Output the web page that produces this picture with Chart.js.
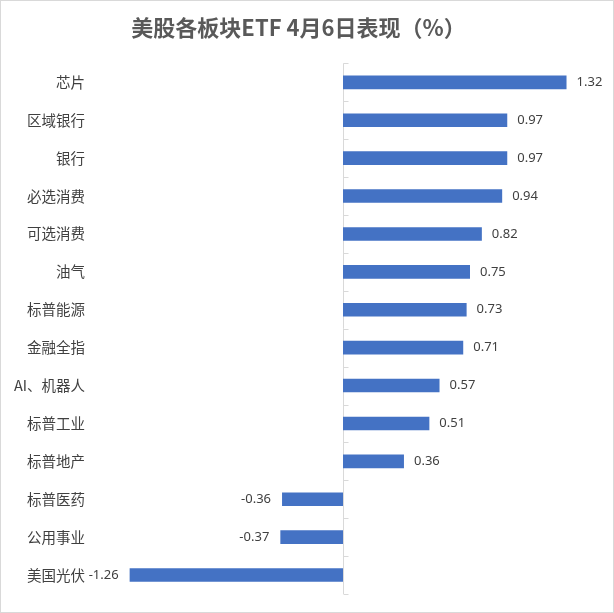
<!DOCTYPE html>
<html>
<head>
<meta charset="utf-8">
<script src="https://cdn.jsdelivr.net/npm/chart.js@4/dist/chart.umd.min.js"></script>
<style>
    html, body { margin: 0; padding: 0; background: #fff; }
    #wrap { width: 614px; height: 613px; }
</style>
</head>
<body>
<div id="wrap"><canvas id="etfChart" width="614" height="613"></canvas></div>
<script>
// 板块名称与涨跌幅（%）
const sectors = ['芯片', '区域银行', '银行', '必选消费', '可选消费', '油气', '标普能源',
    '金融全指', 'AI、机器人', '标普工业', '标普地产', '标普医药', '公用事业', '美国光伏'];
const changes = [1.32, 0.97, 0.97, 0.94, 0.82, 0.75, 0.73, 0.71, 0.57, 0.51, 0.36, -0.36, -0.37, -1.26];

const titleText = '美股各板块ETF 4月6日表现（%）';

// 白底 + 外边框
const bgPlugin = {
    id: 'bg',
    beforeDraw(chart) {
        const c = chart.ctx;
        c.save();
        c.fillStyle = '#ffffff';
        c.fillRect(0, 0, chart.width, chart.height);
        c.strokeStyle = '#d9d9d9';
        c.lineWidth = 1;
        c.strokeRect(0.5, 0.5, chart.width - 1, chart.height - 1);
        c.restore();
    }
};

// 零轴线和分类刻度
const zeroAxisPlugin = {
    id: 'zeroAxis',
    beforeDatasetsDraw(chart) {
        const c = chart.ctx;
        const area = chart.chartArea;
        const x0 = Math.round(chart.scales.x.getPixelForValue(0)) + 0.5;
        const n = sectors.length;
        c.save();
        c.strokeStyle = '#d9d9d9';
        c.lineWidth = 1;
        c.beginPath();
        c.moveTo(x0, area.top);
        c.lineTo(x0, area.bottom);
        for (let i = 0; i <= n; i++) {
            const y = Math.round(area.top + i * (area.bottom - area.top) / n) + 0.5;
            c.moveTo(x0, y);
            c.lineTo(x0 + 5, y);
        }
        c.stroke();
        c.restore();
    }
};

// 数据标签
const valueLabelPlugin = {
    id: 'valueLabel',
    afterDatasetsDraw(chart) {
        const c = chart.ctx;
        const meta = chart.getDatasetMeta(0);
        c.save();
        c.font = '13px "Noto Sans"';
        c.fillStyle = '#404040';
        c.textBaseline = 'middle';
        meta.data.forEach((bar, i) => {
            const v = changes[i];
            if (v >= 0) {
                c.textAlign = 'left';
                c.fillText(v.toFixed(2), bar.x + 10, bar.y);
            } else {
                c.textAlign = 'right';
                c.fillText(v.toFixed(2), bar.x - 11, bar.y);
            }
        });
        c.restore();
    }
};

function initChart() {
    const ctx = document.getElementById('etfChart');
    if (!ctx) return;

    new Chart(ctx, {
        type: 'bar',
        data: {
            labels: sectors,
            datasets: [{
                data: changes,
                backgroundColor: '#4472c4',
                borderWidth: 0,
                categoryPercentage: 1,
                barPercentage: 0.36
            }]
        },
        options: {
            indexAxis: 'y',
            responsive: false,
            animation: false,
            layout: {
                padding: { left: 0, right: 17, top: 0, bottom: 19 }
            },
            plugins: {
                legend: { display: false },
                tooltip: { enabled: false },
                title: {
                    display: true,
                    text: titleText,
                    color: '#595959',
                    font: { family: '"Noto Sans CJK SC"', size: 22, weight: 'bold' },
                    padding: { top: 14, bottom: 23 }
                }
            },
            scales: {
                x: {
                    display: false,
                    min: -1.5,
                    max: 1.5
                },
                y: {
                    grid: { display: false, drawTicks: false },
                    border: { display: false },
                    afterFit(scale) { scale.width = 89; },
                    ticks: {
                        color: '#404040',
                        padding: 4,
                        font: { family: '"Noto Sans CJK SC"', size: 14.5 }
                    }
                }
            }
        },
        plugins: [bgPlugin, zeroAxisPlugin, valueLabelPlugin]
    });
}

initChart();
</script>
</body>
</html>
